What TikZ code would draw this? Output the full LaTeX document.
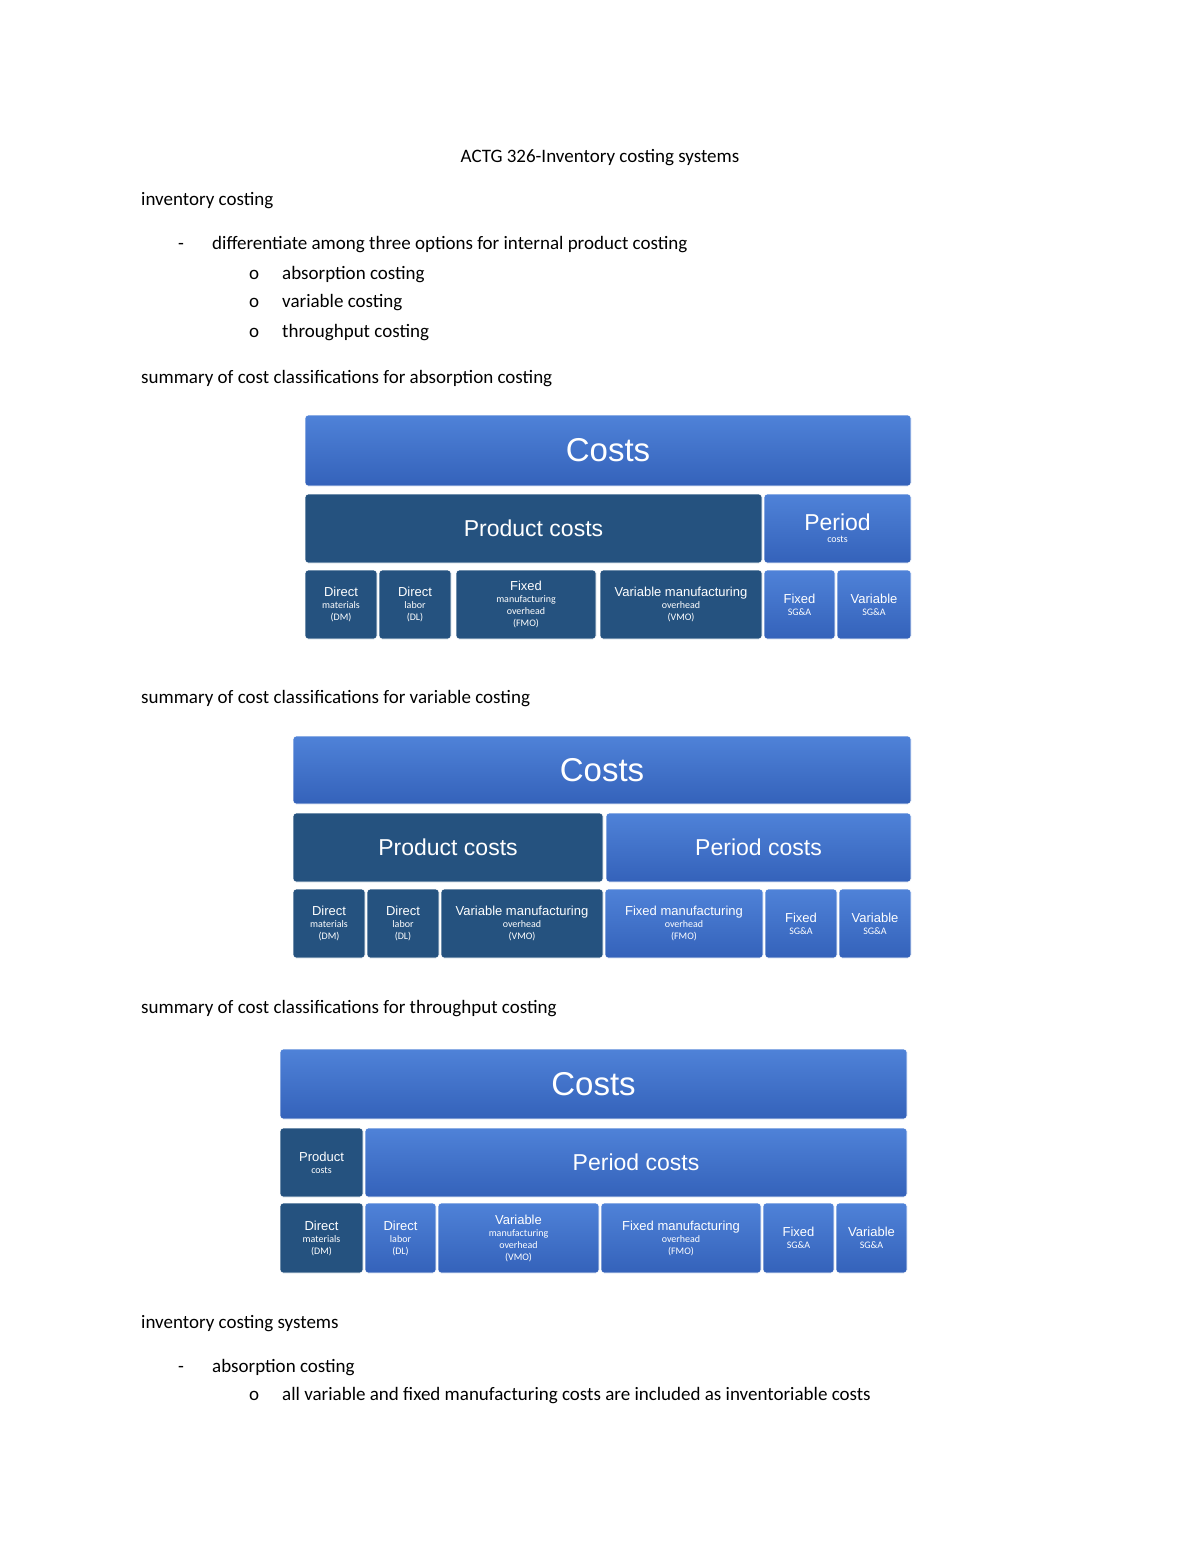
\documentclass[tikz,border=0pt]{standalone}
\usepackage{fontspec}
\setmainfont{Carlito}
\newfontfamily\boxfont{Liberation Sans}
\definecolor{dk}{HTML}{25527F}
\definecolor{brT}{HTML}{4F82D8}
\definecolor{brB}{HTML}{3462BA}
\tikzset{
 base/.style={rounded corners=3pt,draw=white,line width=0.8pt,text=white,align=center,inner sep=1pt},
 darkbox/.style={base,fill=dk},
 brightbox/.style={base,top color=brT,bottom color=brB},
 txt/.style={anchor=base west,inner sep=0pt,font=\fontsize{19}{22}\selectfont}
}
\newcommand{\bx}[7]{\node[#6,minimum width={#4-#2},minimum height={#5-#3}] (#1) at ({(#2+#4)/2},{(#3+#5)/2}) {#7};}
\begin{document}
\begin{tikzpicture}[x=1pt,y=-1pt]
\useasboundingbox (0,0) rectangle (1200,1553);
\node[txt,anchor=base] (title) at (600,162) {ACTG 326-Inventory costing systems};
\node[txt] (t1) at (141,205) {inventory costing};
\node[txt] (d1) at (178,249) {-};
\node[txt] (t2) at (212,249) {differentiate among three options for internal product costing};
\node[txt] (o1) at (249,279) {o}; \node[txt] (t3) at (282,279) {absorption costing};
\node[txt] (o2) at (249,307) {o}; \node[txt] (t4) at (282,307) {variable costing};
\node[txt] (o3) at (249,337) {o}; \node[txt] (t5) at (282,337) {throughput costing};
\node[txt] (t6) at (141,383) {summary of cost classifications for absorption costing};
\node[txt] (t7) at (141,703) {summary of cost classifications for variable costing};
\node[txt] (t8) at (141,1013) {summary of cost classifications for throughput costing};
\node[txt] (t9) at (141,1328) {inventory costing systems};
\node[txt] (d2) at (178,1372) {-}; \node[txt] (t10) at (212,1372) {absorption costing};
\node[txt] (o4) at (249,1400) {o}; \node[txt] (t11) at (282,1400) {all variable and fixed manufacturing costs are included as inventoriable costs};
\def\big{\boxfont\fontsize{33}{36}\selectfont}
\def\mid{\boxfont\fontsize{23}{27}\selectfont}
\def\sm{\boxfont\fontsize{13}{16.5}\selectfont}
% diagram 1
\bx{a0}{305}{415}{911}{486}{brightbox}{\big Costs}
\bx{a1}{305}{494}{762}{563}{darkbox}{\mid Product costs}
\bx{a2}{764}{494}{911}{563}{brightbox}{\mid Period\\costs}
\bx{a3}{305}{570}{377}{639}{darkbox}{\sm Direct\\materials\\(DM)}
\bx{a4}{379}{570}{451}{639}{darkbox}{\sm Direct\\labor\\(DL)}
\bx{a5}{456}{570}{596}{639}{darkbox}{\sm Fixed\\manufacturing\\overhead\\(FMO)}
\bx{a6}{600}{570}{762}{639}{darkbox}{\sm Variable manufacturing\\overhead\\(VMO)}
\bx{a7}{764}{570}{835}{639}{brightbox}{\sm Fixed\\SG\&A}
\bx{a8}{837}{570}{911}{639}{brightbox}{\sm Variable\\SG\&A}
% diagram 2
\bx{b0}{293}{736}{911}{804}{brightbox}{\big Costs}
\bx{b1}{293}{813}{603}{882}{darkbox}{\mid Product costs}
\bx{b2}{606}{813}{911}{882}{brightbox}{\mid Period costs}
\bx{b3}{293}{889}{365}{958}{darkbox}{\sm Direct\\materials\\(DM)}
\bx{b4}{367}{889}{439}{958}{darkbox}{\sm Direct\\labor\\(DL)}
\bx{b5}{441}{889}{603}{958}{darkbox}{\sm Variable manufacturing\\overhead\\(VMO)}
\bx{b6}{605}{889}{763}{958}{brightbox}{\sm Fixed manufacturing\\overhead\\(FMO)}
\bx{b7}{765}{889}{837}{958}{brightbox}{\sm Fixed\\SG\&A}
\bx{b8}{839}{889}{911}{958}{brightbox}{\sm Variable\\SG\&A}
% diagram 3
\bx{c0}{280}{1049}{907}{1119}{brightbox}{\big Costs}
\bx{c1}{280}{1128}{363}{1197}{darkbox}{\sm Product\\costs}
\bx{c2}{365}{1128}{907}{1197}{brightbox}{\mid Period costs}
\bx{c3}{280}{1203}{363}{1273}{darkbox}{\sm Direct\\materials\\(DM)}
\bx{c4}{365}{1203}{436}{1273}{brightbox}{\sm Direct\\labor\\(DL)}
\bx{c5}{438}{1203}{599}{1273}{brightbox}{\sm Variable\\manufacturing\\overhead\\(VMO)}
\bx{c6}{601}{1203}{761}{1273}{brightbox}{\sm Fixed manufacturing\\overhead\\(FMO)}
\bx{c7}{763}{1203}{834}{1273}{brightbox}{\sm Fixed\\SG\&A}
\bx{c8}{836}{1203}{907}{1273}{brightbox}{\sm Variable\\SG\&A}
\end{tikzpicture}
\end{document}
